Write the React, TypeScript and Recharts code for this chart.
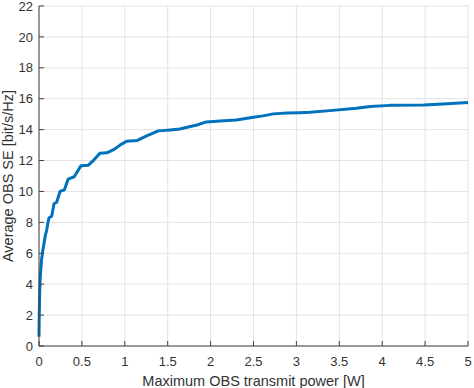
import React from 'react';
import { LineChart, Line, XAxis, YAxis, CartesianGrid } from 'recharts';

const powerW = [0, 0.003, 0.008, 0.015, 0.03, 0.045, 0.06, 0.075, 0.09, 0.105, 0.117, 0.148, 0.175, 0.206, 0.245, 0.295, 0.34, 0.41, 0.49, 0.575, 0.633, 0.71, 0.79, 0.87, 0.944, 1.02, 1.14, 1.255, 1.39, 1.53, 1.64, 1.84, 1.95, 2.11, 2.3, 2.5, 2.61, 2.73, 2.89, 3.04, 3.16, 3.39, 3.7, 3.86, 4.09, 4.48, 4.71, 5.0];
const seValues = [0.6, 2.0, 3.4, 4.5, 5.6, 6.2, 6.7, 7.2, 7.5, 8.0, 8.3, 8.4, 9.2, 9.3, 10.0, 10.1, 10.8, 10.95, 11.67, 11.7, 12.0, 12.47, 12.5, 12.7, 13.0, 13.25, 13.29, 13.6, 13.92, 13.98, 14.04, 14.3, 14.5, 14.56, 14.63, 14.8, 14.89, 15.02, 15.08, 15.1, 15.12, 15.23, 15.38, 15.5, 15.57, 15.6, 15.66, 15.75];
const xTicks = [0, 0.5, 1, 1.5, 2, 2.5, 3, 3.5, 4, 4.5, 5];
const yTicks = [0, 2, 4, 6, 8, 10, 12, 14, 16, 18, 20, 22];
const xLabel = 'Maximum OBS transmit power [W]';
const yLabel = 'Average OBS SE [bit/s/Hz]';

const data = powerW.map((p, i) => ({ p, se: seValues[i] }));

const FONT = '"Liberation Sans", Arial, Helvetica, sans-serif';
const AX = '#404040';
const TXT = '#333333';
const TL = 5;

const XBottomTick = (props: any) => {
  const { x, y, payload } = props;
  return (
    <g>
      <line x1={x} x2={x} y1={y} y2={y - TL} stroke={AX} strokeWidth={1} />
      <text x={x} y={y + 20} textAnchor="middle" fontSize={13} fontFamily={FONT} fill={TXT}>
        {payload.value}
      </text>
    </g>
  );
};

const XTopTick = (props: any) => {
  const { x, y } = props;
  return <line x1={x} x2={x} y1={y} y2={y + TL} stroke={AX} strokeWidth={1} />;
};

const YLeftTick = (props: any) => {
  const { x, y, payload } = props;
  return (
    <g>
      <line x1={x} x2={x + TL} y1={y} y2={y} stroke={AX} strokeWidth={1} />
      <text x={x - 6} y={y + 4.6} textAnchor="end" fontSize={13} fontFamily={FONT} fill={TXT}>
        {payload.value}
      </text>
    </g>
  );
};

const YRightTick = (props: any) => {
  const { x, y } = props;
  return <line x1={x} x2={x - TL} y1={y} y2={y} stroke={AX} strokeWidth={1} />;
};

export default function App() {
  return (
    <div style={{ position: 'fixed', left: 0, top: 0, width: 474, height: 388, background: '#fff' }}>
      <LineChart width={474} height={388} data={data} margin={{ top: 6, right: 6, left: 0, bottom: 0 }}>
        <CartesianGrid stroke="#e3e3e3" strokeWidth={1} verticalPoints={undefined} />
        <XAxis
          dataKey="p"
          type="number"
          domain={[0, 5]}
          ticks={xTicks}
          height={42}
          tickSize={0}
          tickMargin={0}
          stroke={AX}
          tick={<XBottomTick />}
          interval={0}
          label={{
            content: (lp: any) => {
              const vb = lp.viewBox || { x: 39, y: 346, width: 429, height: 42 };
              return (
                <text x={vb.x + vb.width / 2} y={vb.y + 40} textAnchor="middle" fontSize={14.5} fontFamily={FONT} fill={TXT}>
                  {xLabel}
                </text>
              );
            },
          }}
        />
        <XAxis
          xAxisId="top"
          orientation="top"
          dataKey="p"
          type="number"
          domain={[0, 5]}
          ticks={xTicks}
          height={0}
          tickSize={0}
          tickMargin={0}
          stroke={AX}
          tick={<XTopTick />}
          interval={0}
        />
        <YAxis
          type="number"
          domain={[0, 22]}
          ticks={yTicks}
          width={39}
          tickSize={0}
          tickMargin={0}
          stroke={AX}
          tick={<YLeftTick />}
          interval={0}
          label={{
            content: (lp: any) => {
              const vb = lp.viewBox || { x: 0, y: 6, width: 39, height: 340 };
              const cx = 12.5;
              const cy = vb.y + vb.height / 2;
              return (
                <text x={cx} y={cy} transform={`rotate(-90 ${cx} ${cy})`} textAnchor="middle" fontSize={14.5} fontFamily={FONT} fill={TXT}>
                  {yLabel}
                </text>
              );
            },
          }}
        />
        <YAxis
          yAxisId="right"
          orientation="right"
          type="number"
          domain={[0, 22]}
          ticks={yTicks}
          width={0}
          tickSize={0}
          tickMargin={0}
          stroke={AX}
          tick={<YRightTick />}
          interval={0}
        />
        <Line
          type="linear"
          dataKey="se"
          stroke="#0072BD"
          strokeWidth={3}
          dot={false}
          strokeLinejoin="round"
          isAnimationActive={false}
        />
        <Line
          xAxisId="top"
          yAxisId="right"
          type="linear"
          dataKey="se"
          stroke="none"
          strokeWidth={0}
          dot={false}
          activeDot={false}
          isAnimationActive={false}
        />
      </LineChart>
    </div>
  );
}
